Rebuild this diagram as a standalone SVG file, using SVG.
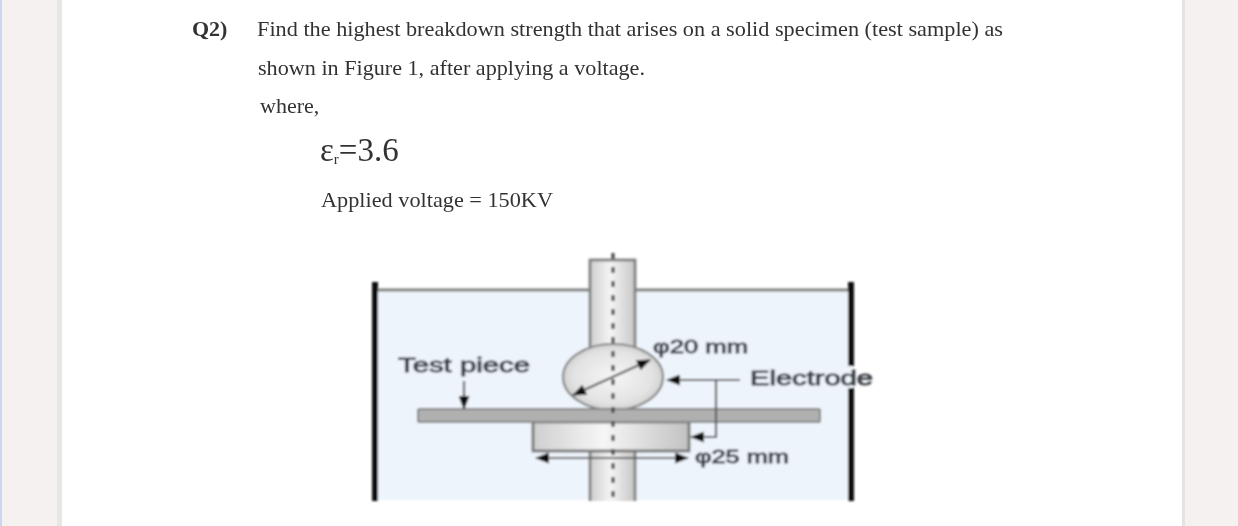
<svg xmlns="http://www.w3.org/2000/svg" width="1238" height="526" viewBox="0 0 1238 526">
<style>
.t{font-family:"Liberation Serif",serif;fill:#333;font-size:22px}
.l{font-family:"Liberation Sans",Arial,sans-serif;fill:#3c4048;font-size:21px;stroke:#3c4048;stroke-width:.9}
.s{font-size:18px}
.c{fill:none;stroke:#5a5a5a;stroke-width:2.2}
</style>
<defs>
<linearGradient id="rod" x1="0" x2="1" y1="0" y2="0"><stop offset="0" stop-color="#cfcfcf"/><stop offset=".45" stop-color="#f4f4f4"/><stop offset="1" stop-color="#c8c8c8"/></linearGradient>
<linearGradient id="disc" x1="0" x2="1" y1="0" y2="0"><stop offset="0" stop-color="#cfcfcf"/><stop offset=".45" stop-color="#f6f6f6"/><stop offset="1" stop-color="#c2c2c2"/></linearGradient>
<radialGradient id="ball" cx=".5" cy=".5" r=".62"><stop offset="0" stop-color="#f6f6f6"/><stop offset=".65" stop-color="#e2e2e2"/><stop offset="1" stop-color="#bcbcbc"/></radialGradient>
<marker id="a" markerWidth="14" markerHeight="11" refX="13" refY="5.5" orient="auto-start-reverse" markerUnits="userSpaceOnUse"><path d="M0 0L14 5.5L0 11Z" fill="#111"/></marker>
<filter id="b" x="-5%" y="-5%" width="110%" height="110%"><feGaussianBlur stdDeviation="0.8"/></filter>
<filter id="bt" x="-5%" y="-5%" width="110%" height="110%"><feGaussianBlur stdDeviation="0.5"/></filter>
</defs>
<rect width="1238" height="526" fill="#f6f1f1"/>
<rect x="0" width="2" height="526" fill="#c9d6ee"/>
<rect x="57" width="5" height="526" fill="#e8e7e7"/>
<rect x="62" width="1120" height="526" fill="#fff"/>
<rect x="1182" width="3" height="526" fill="#e4e4e6"/>
<g id="question" filter="url(#bt)">
<text class="t" x="192" y="36" style="font-weight:bold">Q2)</text>
<text class="t" x="257" y="36" textLength="746" lengthAdjust="spacingAndGlyphs">Find the highest breakdown strength that arises on a solid specimen (test sample) as</text>
<text class="t" x="258" y="75" textLength="387" lengthAdjust="spacingAndGlyphs">shown in Figure 1, after applying a voltage.</text>
<text class="t" x="260" y="113">where,</text>
<text class="t" x="320" y="161" style="font-size:33px">ε<tspan font-size="15" dy="3">r</tspan><tspan dy="-3">=3.6</tspan></text>
<text class="t" x="321" y="207" textLength="232" lengthAdjust="spacingAndGlyphs">Applied voltage = 150KV</text>
</g>
<g filter="url(#b)">
<g id="tank">
<rect x="378" y="291" width="473" height="209" fill="#edf4fb"/>
<path d="M378 290H849" stroke="#808080" stroke-width="3" fill="none"/>
<path d="M375 282V501" stroke="#0c0c0c" stroke-width="6"/>
<path d="M851 282V366M851 388V501" stroke="#0c0c0c" stroke-width="6"/>
</g>
<g id="upper-rod"><rect x="590" y="260" width="45" height="100" fill="url(#rod)" stroke="#808080" stroke-width="2.8"/></g>
<g id="lower-rod"><rect x="591" y="451" width="43" height="50" fill="url(#rod)"/><path d="M590 451V501M635 451V501" stroke="#808080" stroke-width="2.8"/></g>
<g id="sphere"><ellipse cx="613" cy="377" rx="50" ry="33" fill="url(#ball)" stroke="#858585" stroke-width="2.2"/></g>
<g id="disc"><rect x="533" y="422" width="156" height="29" fill="url(#disc)" stroke="#757575" stroke-width="2.8"/></g>
<g id="plate"><rect x="418" y="409" width="402" height="13" rx="1.5" fill="#b0b0b0" stroke="#858585" stroke-width="2"/></g>
<g id="connectors">
<path d="M613 253V501" stroke="#4a4a4a" stroke-width="3.2" stroke-dasharray="6 8" fill="none"/>
<path class="c" d="M464 381V409" marker-end="url(#a)"/>
<path class="c" d="M573 395L650 360" marker-start="url(#a)" marker-end="url(#a)"/>
<path class="c" d="M740 380H667" marker-end="url(#a)"/>
<path class="c" d="M716 380V437H691" marker-end="url(#a)"/>
<path class="c" d="M536 458H688" marker-start="url(#a)" marker-end="url(#a)"/>
</g>
<g id="labels">
<text class="l" x="398" y="372" textLength="132" lengthAdjust="spacingAndGlyphs">Test piece</text>
<text class="l s" x="653" y="353" textLength="95" lengthAdjust="spacingAndGlyphs">φ20 mm</text>
<text class="l" x="750" y="385" textLength="123" lengthAdjust="spacingAndGlyphs">Electrode</text>
<text class="l s" x="695" y="463" textLength="94" lengthAdjust="spacingAndGlyphs">φ25 mm</text>
</g>
</g>
</svg>
